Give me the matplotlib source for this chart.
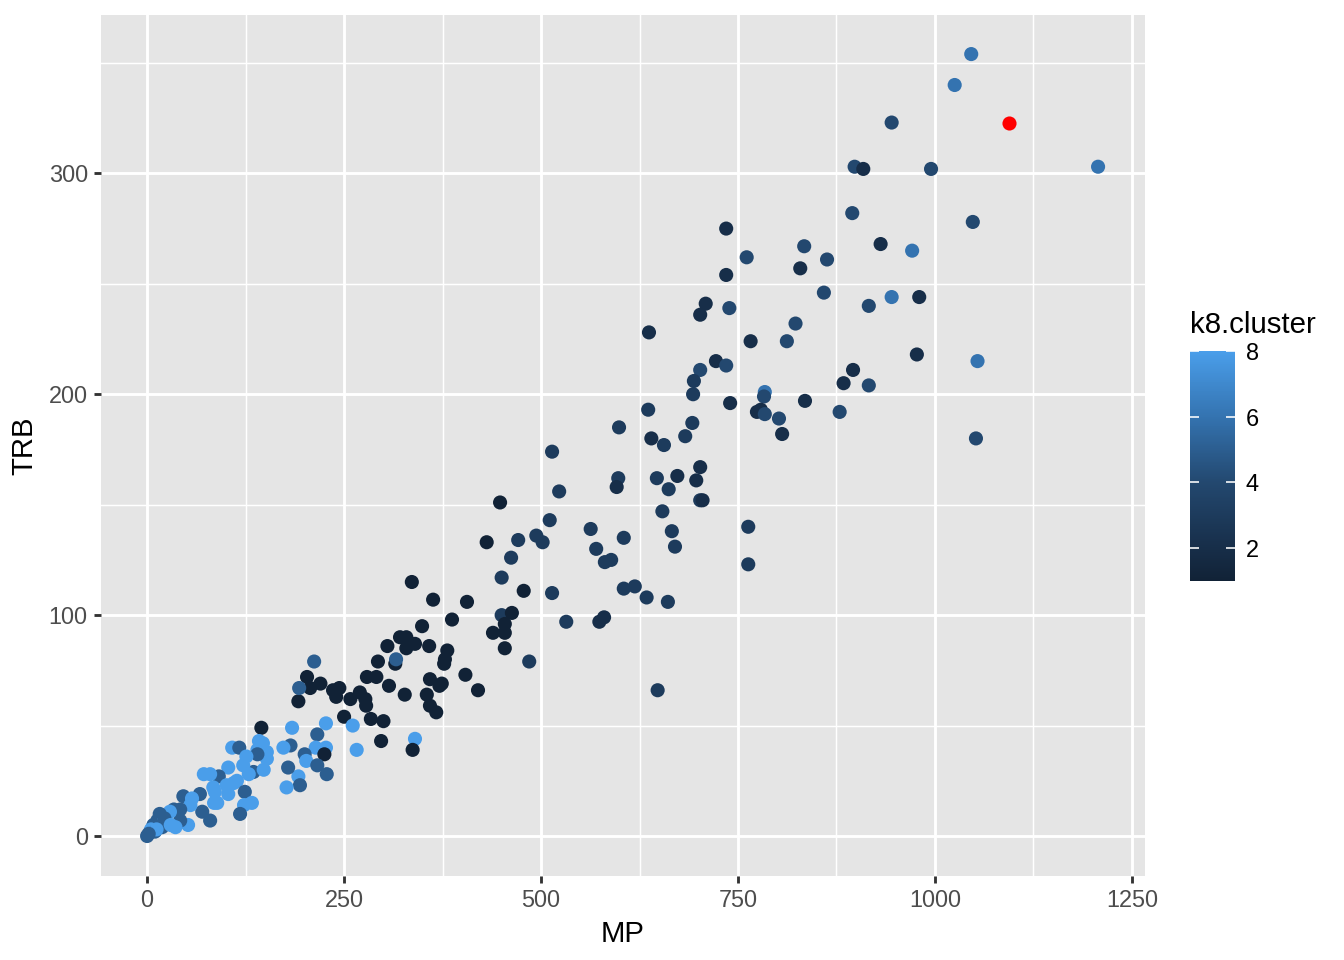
import matplotlib
matplotlib.use("Agg")
import matplotlib.pyplot as plt
import numpy as np
from matplotlib.colors import LinearSegmentedColormap

plt.rcParams["font.family"] = ["Liberation Sans", "DejaVu Sans"]

# MP, TRB and k-means cluster (1..8)
mp = [
    1046, 1025, 945, 898, 909, 995, 1207, 895, 1048, 735, 931, 834, 971, 761, 863,
    735, 829, 859, 945, 980, 709, 702, 739, 916, 823, 766, 812, 977, 1054, 722,
    735, 702, 896, 884, 916, 784, 783, 740, 835, 774, 779, 784, 802, 879, 806, 1052,
    637, 694, 693, 636, 599, 640, 656, 683, 692, 514, 523, 598, 596, 647, 673, 662,
    702, 697, 702, 705, 511, 563, 605, 570, 581, 589, 654, 666, 670, 763, 763, 514,
    605, 619, 634, 661, 532, 574, 580, 648,
    448, 431, 471, 494, 502, 462, 450, 336, 363, 406, 478, 387, 450, 463, 454, 439,
    454, 454, 485, 349, 321, 329, 305, 329, 340, 358, 293, 315, 316, 381, 378, 377,
    404, 420, 359, 371, 374, 355, 359, 367, 307, 327, 279, 291, 270, 277, 278, 284,
    300, 258, 250, 236, 244, 240, 220, 203, 207, 192, 193, 212, 227, 261, 266, 297,
    340, 337, 145, 184, 216, 227, 214, 225, 200, 202, 216, 228, 192, 179, 182, 173, 135,
    194, 177, 108, 117, 142, 140, 147, 152, 152, 148, 140, 126, 122, 129, 114, 110,
    103, 91, 101, 84, 86, 103, 72, 80, 124, 133, 123, 118, 46, 67, 57, 85, 89, 70,
    80, 55, 42, 52, 42, 34, 29, 16, 13, 25, 4, 0, 17, 19, 36, 8,
    5, 10, 22, 30, 12, 2,
]
trb = [
    354, 340, 323, 303, 302, 302, 303, 282, 278, 275, 268, 267, 265, 262, 261,
    254, 257, 246, 244, 244, 241, 236, 239, 240, 232, 224, 224, 218, 215, 215,
    213, 211, 211, 205, 204, 201, 199, 196, 197, 192, 193, 191, 189, 192, 182, 180,
    228, 206, 200, 193, 185, 180, 177, 181, 187, 174, 156, 162, 158, 162, 163, 157,
    167, 161, 152, 152, 143, 139, 135, 130, 124, 125, 147, 138, 131, 140, 123, 110,
    112, 113, 108, 106, 97, 97, 99, 66,
    151, 133, 134, 136, 133, 126, 117, 115, 107, 106, 111, 98, 100, 101, 96, 92,
    92, 85, 79, 95, 90, 90, 86, 85, 87, 86, 79, 78, 80, 84, 80, 78,
    73, 66, 71, 68, 69, 64, 59, 56, 68, 64, 72, 72, 65, 62, 59, 53,
    52, 62, 54, 66, 67, 63, 69, 72, 67, 61, 67, 79, 51, 50, 39, 43,
    44, 39, 49, 49, 46, 40, 40, 37, 37, 34, 32, 28, 27, 31, 41, 40, 29,
    23, 22, 40, 40, 43, 39, 42, 38, 35, 30, 37, 36, 32, 28, 25, 24,
    31, 27, 23, 22, 20, 19, 28, 28, 20, 15, 14, 10, 18, 19, 17, 15, 15, 11,
    7, 14, 12, 5, 7, 12, 11, 10, 7, 6, 2, 0, 5, 4, 4, 5,
    3, 2, 8, 5, 3, 1,
]
cluster = [
    6, 6, 4, 4, 2, 4, 6, 4, 4, 2, 2, 4, 6, 4, 4,
    2, 2, 4, 6, 2, 2, 2, 4, 4, 4, 2, 4, 2, 6, 2,
    4, 4, 2, 2, 4, 6, 4, 2, 2, 2, 2, 4, 4, 4, 2, 4,
    2, 3, 3, 3, 3, 2, 3, 3, 3, 3, 3, 3, 2, 3, 2, 3,
    2, 2, 3, 2, 3, 3, 3, 3, 3, 3, 3, 3, 3, 3, 3, 3,
    3, 3, 3, 3, 3, 2, 2, 3,
    1, 1, 3, 3, 3, 3, 3, 1, 1, 1, 1, 1, 3, 1, 1, 1,
    1, 1, 3, 1, 1, 1, 1, 1, 1, 1, 1, 1, 5, 1, 1, 1,
    1, 1, 1, 1, 1, 1, 1, 1, 1, 1, 1, 1, 1, 1, 1, 1,
    1, 1, 1, 1, 1, 1, 1, 1, 1, 1, 5, 5, 8, 8, 8, 1,
    8, 1, 1, 8, 5, 8, 8, 1, 5, 8, 5, 5, 8, 5, 5, 8, 5,
    5, 8, 8, 5, 8, 8, 8, 8, 8, 8, 5, 8, 8, 8, 8, 8,
    8, 5, 8, 8, 8, 8, 8, 8, 5, 8, 8, 5, 5, 5, 8, 8, 8, 5,
    5, 8, 5, 8, 5, 5, 8, 5, 5, 8, 8, 5, 8, 5, 8, 5,
    8, 5, 5, 8, 8, 5,
]

# highlighted player
red_mp = [1094]
red_trb = [323]

cmap = LinearSegmentedColormap.from_list(
    "gg_blue",
    [(0.0, "#112236"), (1 / 7, "#172E49"), (3 / 7, "#23486F"),
     (5 / 7, "#3473B0"), (1.0, "#4A9EEA")],
)

fig = plt.figure(figsize=(7, 5), dpi=192)
ax = fig.add_axes([0.0751, 0.0875, 0.8519 - 0.0751, 0.9844 - 0.0875])
ax.set_facecolor("#E5E5E5")

ax.set_xlim(-58.6, 1266.5)
ax.set_ylim(-18.1, 371.7)

for v in [125, 375, 625, 875, 1125]:
    ax.axvline(v, color="white", lw=0.55, zorder=0)
for v in [50, 150, 250, 350]:
    ax.axhline(v, color="white", lw=0.55, zorder=0)
ax.grid(True, color="white", lw=1.07, zorder=0)
ax.set_axisbelow(True)

ax.set_xticks([0, 250, 500, 750, 1000, 1250])
ax.set_yticks([0, 100, 200, 300])
ax.tick_params(length=2.75, width=1.07, color="#333333", labelsize=8.8,
               labelcolor="#4D4D4D", pad=2.2)
for s in ax.spines.values():
    s.set_visible(False)

sc = ax.scatter(mp, trb, c=cluster, cmap=cmap, vmin=1, vmax=8, s=28,
                linewidths=0, zorder=3)
ax.scatter(red_mp, red_trb, color="#FF0000", s=28, linewidths=0, zorder=4)

ax.set_xlabel("MP", fontsize=11, labelpad=3)
ax.set_ylabel("TRB", fontsize=11, labelpad=4)

cax = fig.add_axes([1190 / 1344, 1 - 581 / 960, 45 / 1344, 230 / 960])
cb = fig.colorbar(sc, cax=cax)
cb.outline.set_visible(False)
cb.set_ticks([2, 4, 6, 8])
cax.tick_params(direction="in", length=3.4, width=0.6, color="white",
                left=True, right=True, labelleft=False, labelright=True,
                labelsize=8.8, labelcolor="black", pad=4)
fig.text(1190 / 1344, 1 - 325 / 960, "k8.cluster", fontsize=11,
         ha="left", va="center")

fig.savefig("out.png", dpi=192)
